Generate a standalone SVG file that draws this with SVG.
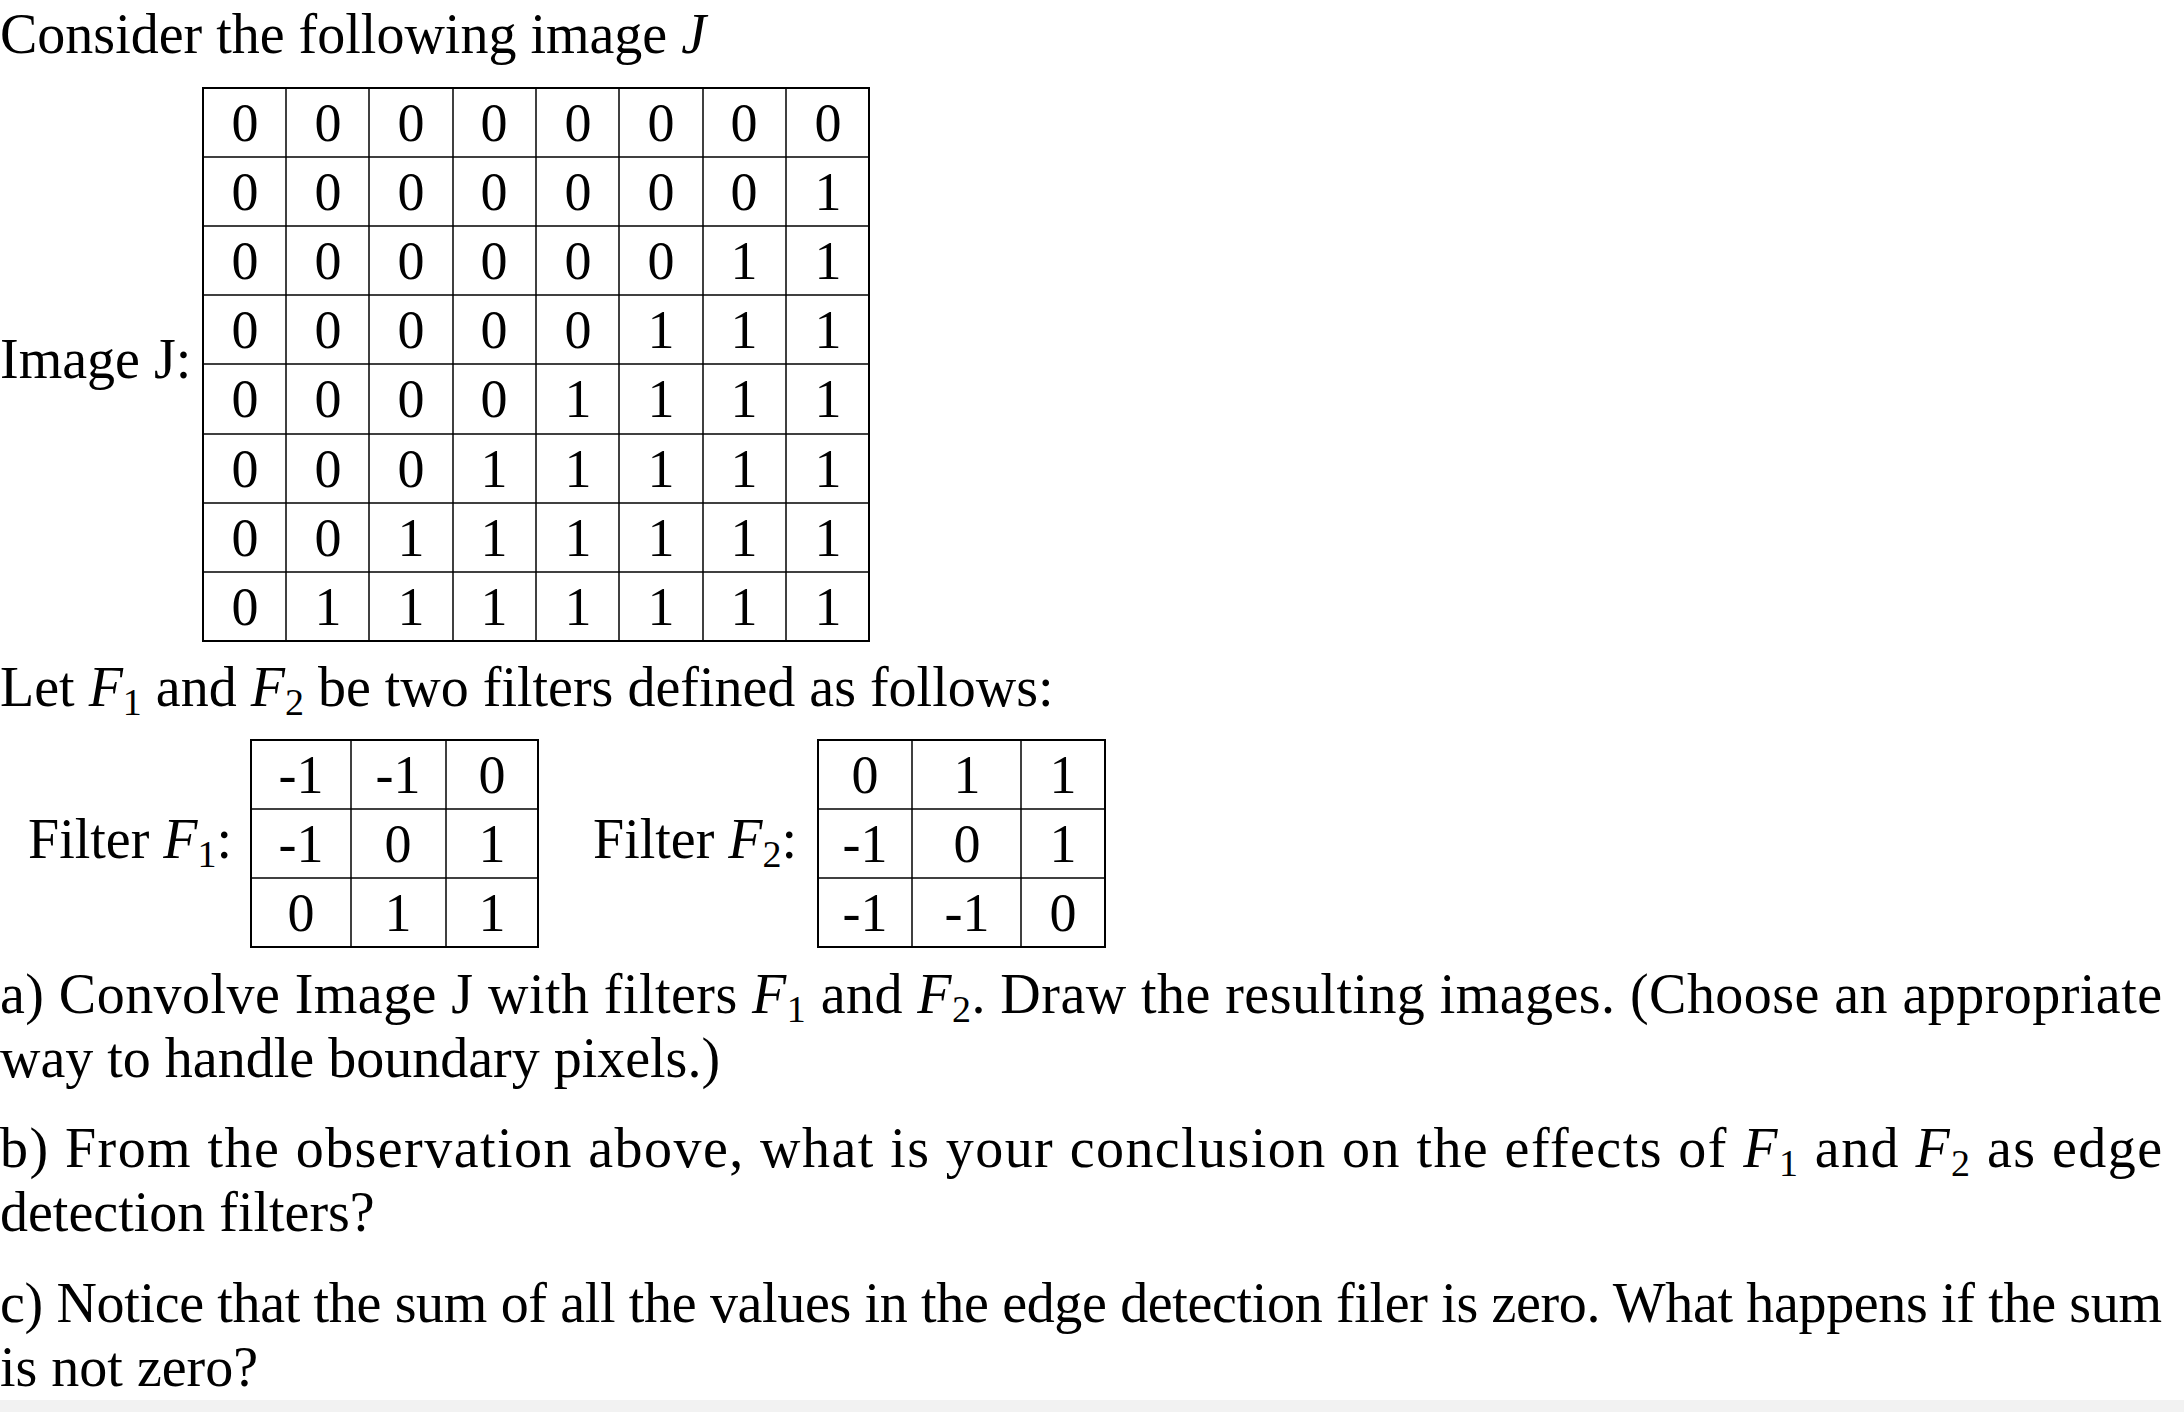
<svg xmlns="http://www.w3.org/2000/svg" width="2184" height="1412" viewBox="0 0 2184 1412">
<style>
text{font-family:"Liberation Serif","Times New Roman",serif;font-size:56px;fill:#000}
.c{text-anchor:middle;font-size:54px}
.g line{stroke:#000;stroke-width:1.5}
.g rect{fill:none;stroke:#000;stroke-width:2}
.s{font-size:38px}
</style>
<rect x="0" y="1400" width="2184" height="12" fill="#f2f2f2"/>
<text x="0" y="53">Consider the following image <tspan font-style="italic">J</tspan></text>
<text x="0" y="378">Image J:</text>
<g id="imageJ" class="g">
<rect x="203" y="88" width="666" height="553"/>
<line x1="286" y1="88" x2="286" y2="641"/><line x1="369" y1="88" x2="369" y2="641"/><line x1="453" y1="88" x2="453" y2="641"/><line x1="536" y1="88" x2="536" y2="641"/><line x1="619" y1="88" x2="619" y2="641"/><line x1="703" y1="88" x2="703" y2="641"/><line x1="786" y1="88" x2="786" y2="641"/>
<line x1="203" y1="157" x2="869" y2="157"/><line x1="203" y1="226" x2="869" y2="226"/><line x1="203" y1="295" x2="869" y2="295"/><line x1="203" y1="364" x2="869" y2="364"/><line x1="203" y1="434" x2="869" y2="434"/><line x1="203" y1="503" x2="869" y2="503"/><line x1="203" y1="572" x2="869" y2="572"/>
</g>
<g id="imageJ-values">
<text class="c" y="141"><tspan x="245">0</tspan><tspan x="328">0</tspan><tspan x="411">0</tspan><tspan x="494">0</tspan><tspan x="578">0</tspan><tspan x="661">0</tspan><tspan x="744">0</tspan><tspan x="828">0</tspan></text>
<text class="c" y="210"><tspan x="245">0</tspan><tspan x="328">0</tspan><tspan x="411">0</tspan><tspan x="494">0</tspan><tspan x="578">0</tspan><tspan x="661">0</tspan><tspan x="744">0</tspan><tspan x="828">1</tspan></text>
<text class="c" y="279"><tspan x="245">0</tspan><tspan x="328">0</tspan><tspan x="411">0</tspan><tspan x="494">0</tspan><tspan x="578">0</tspan><tspan x="661">0</tspan><tspan x="744">1</tspan><tspan x="828">1</tspan></text>
<text class="c" y="348"><tspan x="245">0</tspan><tspan x="328">0</tspan><tspan x="411">0</tspan><tspan x="494">0</tspan><tspan x="578">0</tspan><tspan x="661">1</tspan><tspan x="744">1</tspan><tspan x="828">1</tspan></text>
<text class="c" y="417"><tspan x="245">0</tspan><tspan x="328">0</tspan><tspan x="411">0</tspan><tspan x="494">0</tspan><tspan x="578">1</tspan><tspan x="661">1</tspan><tspan x="744">1</tspan><tspan x="828">1</tspan></text>
<text class="c" y="487"><tspan x="245">0</tspan><tspan x="328">0</tspan><tspan x="411">0</tspan><tspan x="494">1</tspan><tspan x="578">1</tspan><tspan x="661">1</tspan><tspan x="744">1</tspan><tspan x="828">1</tspan></text>
<text class="c" y="556"><tspan x="245">0</tspan><tspan x="328">0</tspan><tspan x="411">1</tspan><tspan x="494">1</tspan><tspan x="578">1</tspan><tspan x="661">1</tspan><tspan x="744">1</tspan><tspan x="828">1</tspan></text>
<text class="c" y="625"><tspan x="245">0</tspan><tspan x="328">1</tspan><tspan x="411">1</tspan><tspan x="494">1</tspan><tspan x="578">1</tspan><tspan x="661">1</tspan><tspan x="744">1</tspan><tspan x="828">1</tspan></text>
</g>
<text x="0" y="706">Let <tspan font-style="italic">F</tspan><tspan class="s" dy="9">1</tspan><tspan dy="-9"> and </tspan><tspan font-style="italic">F</tspan><tspan class="s" dy="9">2</tspan><tspan dy="-9"> be two filters defined as follows:</tspan></text>
<text x="28" y="858">Filter <tspan font-style="italic">F</tspan><tspan class="s" dy="9">1</tspan><tspan dy="-9">:</tspan></text>
<g id="filterF1" class="g">
<rect x="251" y="740" width="287" height="207"/>
<line x1="351" y1="740" x2="351" y2="947"/><line x1="446" y1="740" x2="446" y2="947"/>
<line x1="251" y1="809" x2="538" y2="809"/><line x1="251" y1="878" x2="538" y2="878"/>
<text class="c" y="793"><tspan x="301">-1</tspan><tspan x="398">-1</tspan><tspan x="492">0</tspan></text>
<text class="c" y="862"><tspan x="301">-1</tspan><tspan x="398">0</tspan><tspan x="492">1</tspan></text>
<text class="c" y="931"><tspan x="301">0</tspan><tspan x="398">1</tspan><tspan x="492">1</tspan></text>
</g>
<text x="593" y="858">Filter <tspan font-style="italic">F</tspan><tspan class="s" dy="9">2</tspan><tspan dy="-9">:</tspan></text>
<g id="filterF2" class="g">
<rect x="818" y="740" width="287" height="207"/>
<line x1="912" y1="740" x2="912" y2="947"/><line x1="1021" y1="740" x2="1021" y2="947"/>
<line x1="818" y1="809" x2="1105" y2="809"/><line x1="818" y1="878" x2="1105" y2="878"/>
<text class="c" y="793"><tspan x="865">0</tspan><tspan x="967">1</tspan><tspan x="1063">1</tspan></text>
<text class="c" y="862"><tspan x="865">-1</tspan><tspan x="967">0</tspan><tspan x="1063">1</tspan></text>
<text class="c" y="931"><tspan x="865">-1</tspan><tspan x="967">-1</tspan><tspan x="1063">0</tspan></text>
</g>
<text x="0" y="1013" textLength="2162" lengthAdjust="spacing">a) Convolve Image J with filters <tspan font-style="italic">F</tspan><tspan class="s" dy="9">1</tspan><tspan dy="-9"> and </tspan><tspan font-style="italic">F</tspan><tspan class="s" dy="9">2</tspan><tspan dy="-9">. Draw the resulting images. (Choose an appropriate</tspan></text>
<text x="0" y="1077">way to handle boundary pixels.)</text>
<text x="0" y="1167" textLength="2162" lengthAdjust="spacing">b) From the observation above, what is your conclusion on the effects of <tspan font-style="italic">F</tspan><tspan class="s" dy="9">1</tspan><tspan dy="-9"> and </tspan><tspan font-style="italic">F</tspan><tspan class="s" dy="9">2</tspan><tspan dy="-9"> as edge</tspan></text>
<text x="0" y="1231">detection filters?</text>
<text x="0" y="1322" textLength="2162" lengthAdjust="spacing">c) Notice that the sum of all the values in the edge detection filer is zero. What happens if the sum</text>
<text x="0" y="1386">is not zero?</text>
</svg>
